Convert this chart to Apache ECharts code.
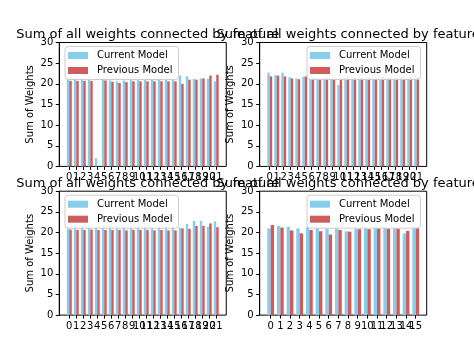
<!DOCTYPE html>
<html>
<head>
<meta charset="utf-8">
<script src="https://cdn.jsdelivr.net/npm/echarts@6/dist/echarts.min.js"></script>
<style>
html, body { margin: 0; padding: 0; background: #fff; }
#main { width: 474px; height: 354px; }
</style>
</head>
<body>
<div id="main"></div>
<script>
var cats22 = ['0','1','2','3','4','5','6','7','8','9','10','11','12','13','14','15','16','17','18','19','20','21'];
var cats16 = ['0','1','2','3','4','5','6','7','8','9','10','11','12','13','14','15'];
var yTicks = [0, 30, 5];

// top left
var cur1  = [21.4, 21.5, 21.4, 21.5, 2.0, 21.4, 20.8, 20.6, 20.8, 20.9, 20.9, 21.0, 21.0, 21.1, 21.2, 21.3, 22.0, 21.8, 21.2, 21.3, 21.2, 20.6];
var prev1 = [20.7, 20.7, 20.7, 20.7, 0, 20.8, 20.5, 20.2, 20.4, 20.6, 20.6, 20.6, 20.6, 20.6, 20.6, 20.6, 20.0, 21.0, 21.0, 21.3, 22.0, 22.2];
// top right
var cur2  = [22.7, 22.1, 22.7, 21.6, 21.3, 21.7, 21.5, 21.4, 21.5, 21.4, 19.7, 21.5, 21.4, 21.5, 21.5, 21.4, 21.6, 21.5, 21.4, 21.5, 21.6, 21.5];
var prev2 = [21.8, 22.0, 21.8, 21.3, 21.1, 21.8, 21.4, 21.3, 21.4, 21.3, 21.2, 21.4, 21.5, 21.4, 21.5, 21.5, 21.6, 21.5, 21.4, 21.5, 21.5, 21.6];
// bottom left
var cur3  = [21.5, 21.4, 21.5, 21.6, 21.4, 21.5, 21.4, 21.3, 21.3, 21.4, 21.6, 21.7, 21.3, 21.4, 21.3, 21.4, 21.2, 22.1, 22.8, 22.8, 21.4, 22.7];
var prev3 = [20.7, 20.6, 20.6, 20.7, 20.6, 20.6, 20.6, 20.6, 20.5, 20.6, 20.6, 20.6, 20.5, 20.6, 20.5, 20.5, 21.0, 20.9, 21.6, 21.6, 22.2, 21.3];
// bottom right
var cur4  = [21.0, 21.6, 21.4, 21.0, 21.3, 21.2, 21.0, 21.2, 20.3, 21.0, 21.2, 21.3, 21.3, 21.2, 19.8, 21.4];
var prev4 = [21.8, 21.2, 20.5, 19.8, 20.6, 20.3, 19.5, 20.6, 20.2, 20.8, 20.8, 21.0, 21.0, 21.0, 20.4, 21.3];

var titleText = 'Sum of all weights connected by feature';
var font = 'DejaVu Sans';

var plots = [
    {x: 59.25, y: 42.5, cats: cats22, cur: cur1, prev: prev1, legendLeft: 65},
    {x: 259.7, y: 42.5, cats: cats22, cur: cur2, prev: prev2, legendLeft: 307},
    {x: 59.25, y: 191.2, cats: cats22, cur: cur3, prev: prev3, legendLeft: 65},
    {x: 259.7, y: 191.2, cats: cats16, cur: cur4, prev: prev4, legendLeft: 307}
];
var W = 167, H = 123.9;

var grid = [], xAxis = [], yAxis = [], series = [], title = [], legend = [];

plots.forEach(function(p, i) {
    var n = p.cats.length;
    var u = W / (1.1 * (n - 0.3));   // px per category, matplotlib margins
    var inner = n * u;
    var m = (W - inner) / 2;

    // frame grid with the visible y axis
    grid.push({left: p.x, top: p.y, width: W, height: H, show: true,
        borderColor: '#000', borderWidth: 1, backgroundColor: 'transparent'});
    xAxis.push({gridIndex: 2 * i, type: 'value', min: 0, max: 1, show: false});
    yAxis.push({gridIndex: 2 * i, type: 'value', min: yTicks[0], max: yTicks[1], interval: yTicks[2],
        name: 'Sum of Weights', nameLocation: 'middle', nameGap: 24,
        nameTextStyle: {fontFamily: font, fontSize: 10, color: '#000'},
        axisLine: {show: true, lineStyle: {color: '#000'}},
        axisTick: {show: true, length: 3.5, lineStyle: {color: '#000'}},
        axisLabel: {fontFamily: font, fontSize: 10, color: '#000', margin: 6},
        splitLine: {show: false}});

    // inner grid holding the bars
    grid.push({left: p.x + m, top: p.y, width: inner, height: H});
    xAxis.push({gridIndex: 2 * i + 1, type: 'category', data: p.cats,
        axisLine: {show: false},
        axisTick: {show: true, alignWithLabel: true, length: 3.5, lineStyle: {color: '#000'}},
        axisLabel: {interval: 0, fontFamily: font, fontSize: 10, color: '#000', margin: 6}});
    yAxis.push({gridIndex: 2 * i + 1, type: 'value', min: yTicks[0], max: yTicks[1], show: false});

    var bw = 0.35 * u;
    series.push({name: 'Current Model', type: 'bar', xAxisIndex: 2 * i + 1, yAxisIndex: 2 * i + 1,
        data: p.cur, barWidth: bw, barGap: '0%', itemStyle: {color: '#87ceeb'}});
    series.push({name: 'Previous Model', type: 'bar', xAxisIndex: 2 * i + 1, yAxisIndex: 2 * i + 1,
        data: p.prev, barWidth: bw, barGap: '0%', itemStyle: {color: '#cd5c5c'}});

    title.push({text: titleText, left: p.x + W / 2, top: p.y - 19, textAlign: 'center',
        textStyle: {fontFamily: font, fontSize: 13, fontWeight: 'normal', color: '#000'}});

    legend.push({data: ['Current Model', 'Previous Model'], orient: 'vertical',
        left: p.legendLeft, top: p.y + 4, itemWidth: 20, itemHeight: 7, itemGap: 5,
        padding: [4, 6, 4, 3], icon: 'rect',
        backgroundColor: 'rgba(255,255,255,0.8)', borderColor: '#cccccc', borderWidth: 1, borderRadius: 3,
        textStyle: {fontFamily: font, fontSize: 10, color: '#000', padding: [0, 0, 0, 4]},
        selectedMode: false});
});

echarts.init(document.getElementById('main')).setOption({
    animation: false,
    title: title,
    legend: legend,
    grid: grid,
    xAxis: xAxis,
    yAxis: yAxis,
    series: series
});
</script>
</body>
</html>
